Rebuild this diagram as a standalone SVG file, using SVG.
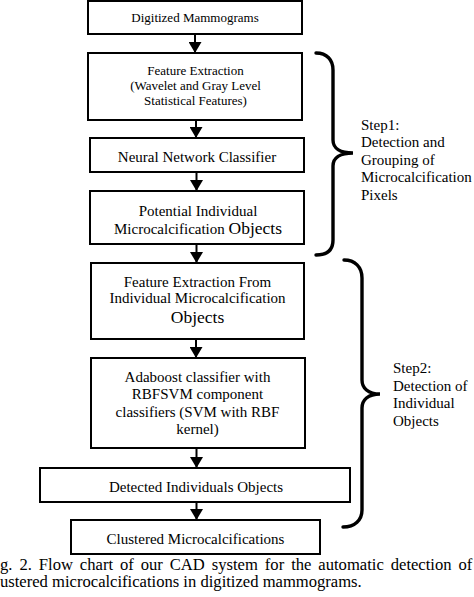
<svg xmlns="http://www.w3.org/2000/svg" width="474" height="597" viewBox="0 0 474 597">
<style>
.box{fill:#fff;stroke:#000;stroke-width:2}
.t{font-family:"Liberation Serif","Times New Roman",serif;fill:#000;text-anchor:middle}
.s13{font-size:13px}
.s15{font-size:15px}
.lbl{font-family:"Liberation Serif","Times New Roman",serif;font-size:15px;fill:#000}
.cap{font-family:"Liberation Serif","Times New Roman",serif;font-size:16.6px;fill:#000}
.brace{fill:none;stroke:#000;stroke-width:3.4;stroke-linecap:round}
.conn line{stroke:#000;stroke-width:2}
</style>
<defs>
<marker id="ah" viewBox="0 0 11 13" refX="11" refY="6.5" markerWidth="11" markerHeight="13" markerUnits="userSpaceOnUse" orient="auto">
<path d="M0,0 L11,6.5 L0,13 Z" fill="#000"/>
</marker>
</defs>
<rect width="474" height="597" fill="#fff"/>

<g id="n1"><rect class="box" x="88" y="1" width="214" height="33"/>
<text class="t s13" x="195" y="21.5">Digitized Mammograms</text></g>

<g id="n2"><rect class="box" x="88" y="53" width="214" height="67"/>
<text class="t s13" x="195.5" y="75.3">Feature Extraction</text>
<text class="t s13" x="195.5" y="90.3">(Wavelet and Gray Level</text>
<text class="t s13" x="195.5" y="105.3">Statistical Features)</text></g>

<g id="n3"><rect class="box" x="90" y="138" width="214" height="34"/>
<text class="t s15" x="197" y="161.6">Neural Network Classifier</text></g>

<g id="n4"><rect class="box" x="90" y="191" width="214" height="53"/>
<text class="t s15" x="198" y="216">Potential Individual</text>
<text class="t s15" x="198" y="234.3">Microcalcification <tspan style="font-size:17.5px">Objects</tspan></text></g>

<g id="n5"><rect class="box" x="91" y="263" width="213" height="76"/>
<text class="t s15" x="197.5" y="286.6">Feature Extraction From</text>
<text class="t s15" x="197.5" y="303.3">Individual Microcalcification</text>
<text class="t" style="font-size:17.5px" x="197.5" y="323.3">Objects</text></g>

<g id="n6"><rect class="box" x="91" y="358" width="214" height="90"/>
<text class="t s15" x="197.5" y="381.6">Adaboost classifier with</text>
<text class="t s15" x="197.5" y="399">RBFSVM component</text>
<text class="t s15" x="197.5" y="416.5">classifiers (SVM with RBF</text>
<text class="t s15" x="197.5" y="434">kernel)</text></g>

<g id="n7"><rect class="box" x="40" y="468" width="310" height="34"/>
<text class="t s15" x="196" y="492">Detected Individuals Objects</text></g>

<g id="n8"><rect class="box" x="71" y="520" width="249" height="34"/>
<text class="t s15" x="195.5" y="544">Clustered Microcalcifications</text></g>

<g class="conn" id="connectors">
<line x1="195" y1="34" x2="195" y2="53" marker-end="url(#ah)"/>
<line x1="196" y1="120" x2="196" y2="138" marker-end="url(#ah)"/>
<line x1="196.5" y1="172" x2="196.5" y2="191" marker-end="url(#ah)"/>
<line x1="196.5" y1="244" x2="196.5" y2="263" marker-end="url(#ah)"/>
<line x1="196" y1="339" x2="196" y2="358" marker-end="url(#ah)"/>
<line x1="196.5" y1="448" x2="196.5" y2="468" marker-end="url(#ah)"/>
<line x1="196.5" y1="502" x2="196.5" y2="520" marker-end="url(#ah)"/>
</g>

<g id="step1">
<path class="brace" d="M316,53 C327,53 333,60 333,70 L333,140 C333,148 340,153 353,153 C340,153 333,158 333,166 L333,240 C333,250 327,255 316,255"/>
<text class="lbl" x="361" y="129.5">Step1:</text>
<text class="lbl" x="361" y="147">Detection and</text>
<text class="lbl" x="361" y="164.7">Grouping of</text>
<text class="lbl" x="361" y="182.3">Microcalcification</text>
<text class="lbl" x="361" y="200">Pixels</text>
</g>

<g id="step2">
<path class="brace" d="M344,260 C355,260 362,267 362,278 L362,380 C362,388 368,394 380,394 C368,394 362,400 362,408 L362,510 C362,520 355,527 343,527"/>
<text class="lbl" x="393" y="373">Step2:</text>
<text class="lbl" x="393" y="390.5">Detection of</text>
<text class="lbl" x="393" y="408">Individual</text>
<text class="lbl" x="393" y="425.5">Objects</text>
</g>

<g id="caption">
<text class="cap" x="0" y="569.5" word-spacing="2.8">g. 2. Flow chart of our CAD system for the automatic detection of</text>
<text class="cap" x="0" y="587">ustered microcalcifications in digitized mammograms.</text>
</g>
</svg>
